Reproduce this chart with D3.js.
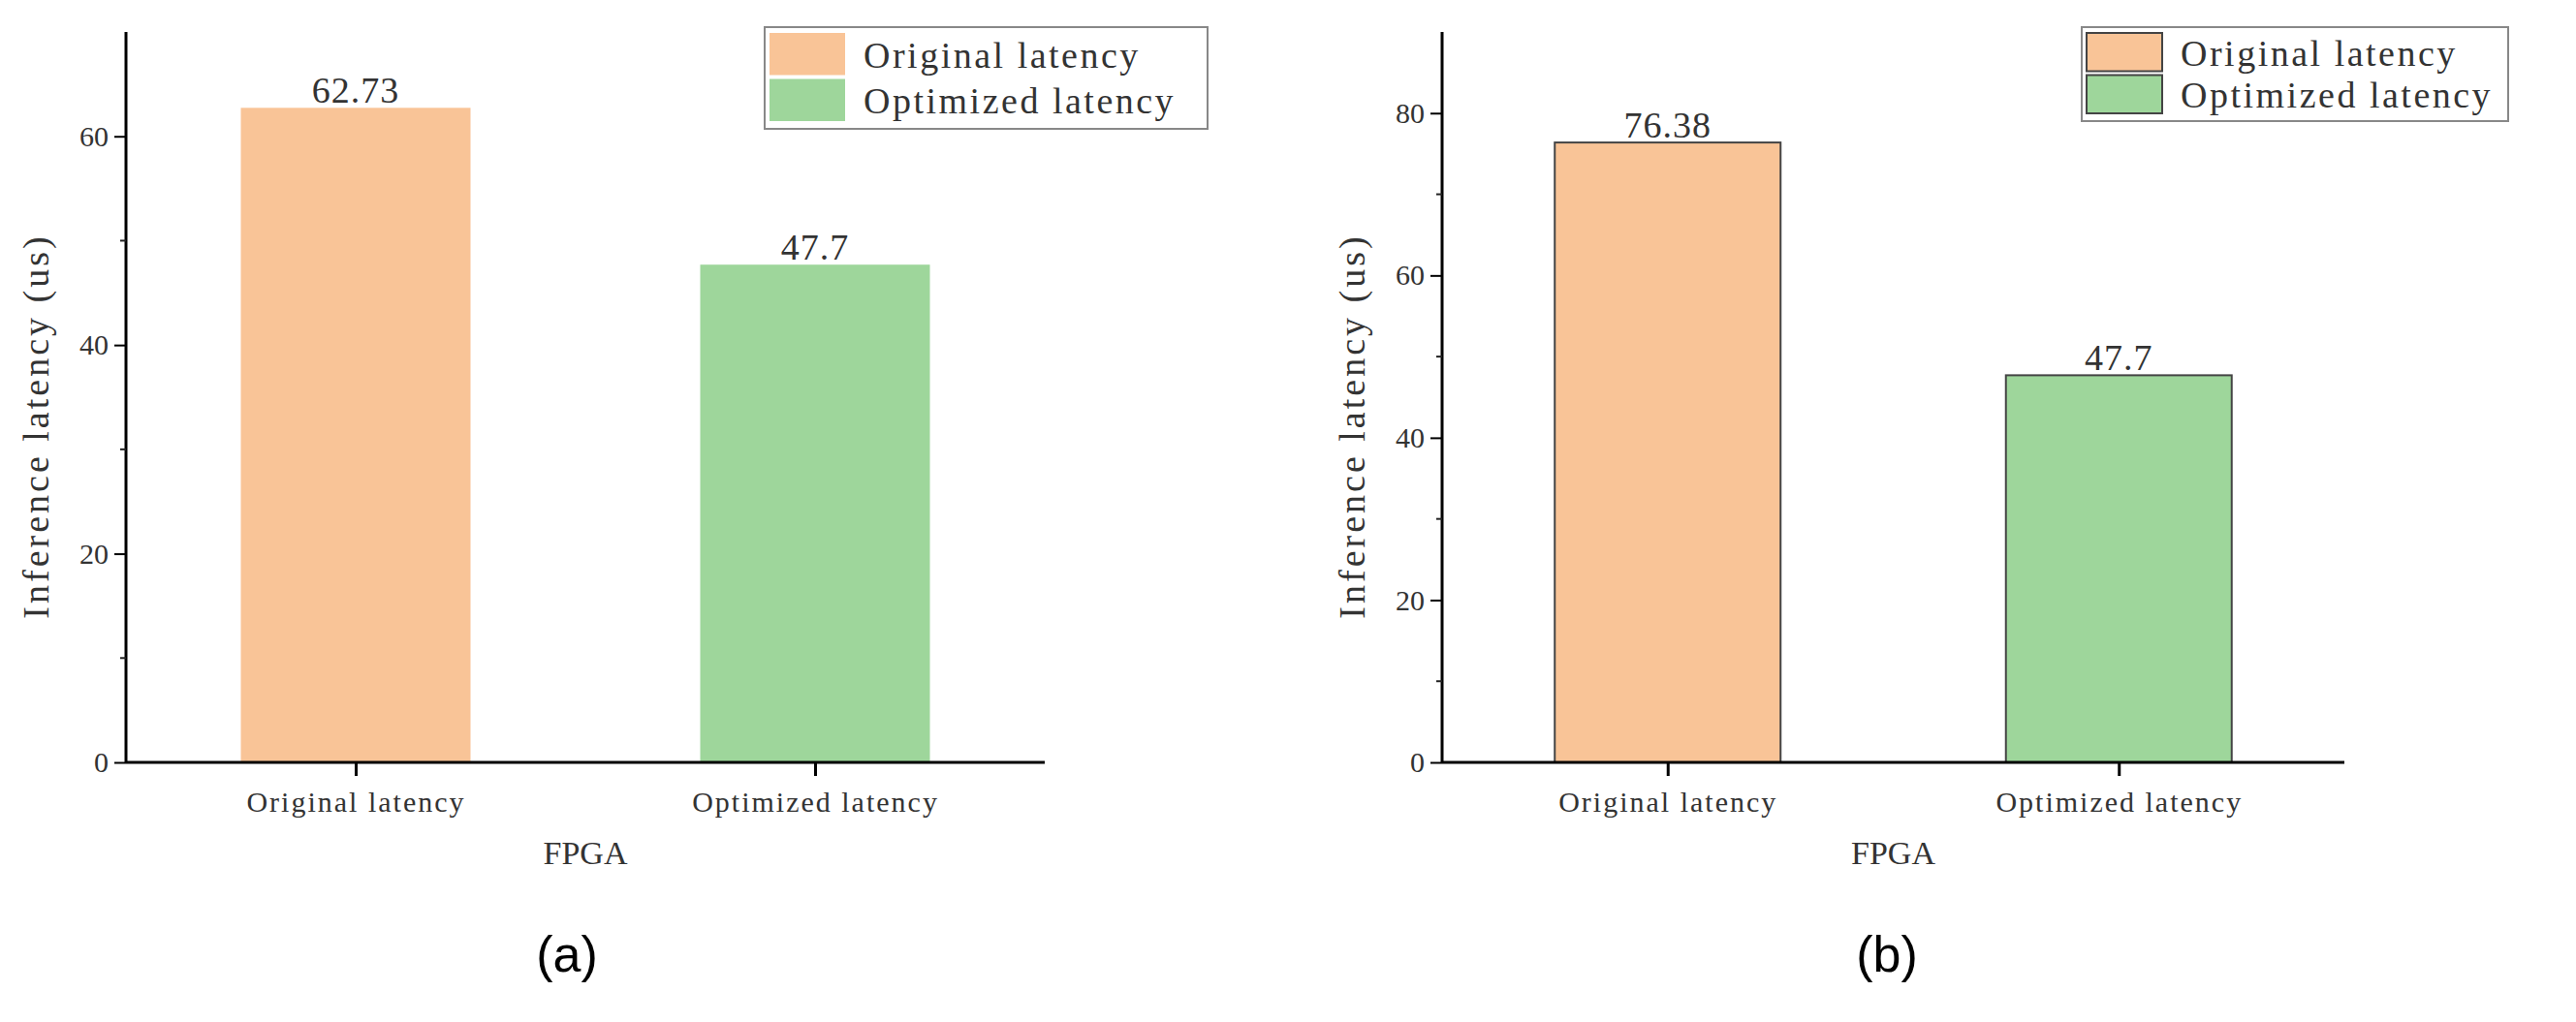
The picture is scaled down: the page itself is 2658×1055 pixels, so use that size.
<!DOCTYPE html>
<html><head><meta charset="utf-8">
<script src="https://cdn.jsdelivr.net/npm/d3@7"></script>
<style>body{margin:0;background:#fff}text{font-family:"Liberation Serif",serif;fill:#333}</style>
</head><body><svg id="c" width="2658" height="1055"></svg>
<script>
var categories = ["Original latency", "Optimized latency"];
var valuesA = [62.73, 47.7];
var valuesB = [76.38, 47.7];
var labelsA = ["62.73", "47.7"];
var labelsB = ["76.38", "47.7"];
var colors = ["#F9C497", "#9ED69B"];

var svg = d3.select("#c");

function drawPanel(o) {
	var g = svg.append("g");
	var x = d3.scaleBand().domain(categories).range([o.x0, o.x1]).paddingInner(1).paddingOuter(0.5);
	var bw = o.barW;
	var y = d3.scaleLinear().domain([0, o.max]).range([787, 33]);

	g.selectAll("rect.bar").data(o.values).enter().append("rect")
		.attr("x", function(d, i) { return x(categories[i]) - bw / 2; })
		.attr("y", function(d) { return y(d); })
		.attr("width", bw)
		.attr("height", function(d) { return y(0) - y(d); })
		.attr("fill", function(d, i) { return colors[i]; })
		.attr("stroke", o.stroke ? "#444" : "none")
		.attr("stroke-width", 2);

	g.selectAll("text.val").data(o.values).enter().append("text")
		.attr("x", function(d, i) { return x(categories[i]); })
		.attr("y", function(d) { return y(d) - 5; })
		.attr("text-anchor", "middle").attr("font-size", 38).attr("letter-spacing", 1)
		.text(function(d, i) { return o.labels[i]; });

	var ya = d3.axisLeft(y).tickValues(d3.range(0, o.max, 20)).tickSize(12).tickPadding(6);
	var yg = g.append("g").attr("transform", "translate(" + o.x0 + ",0)").call(ya);
	yg.selectAll("text").attr("font-size", 30).style("font-family", "Liberation Serif").style("fill", "#333");
	yg.append("g").selectAll("line").data(d3.range(10, o.max, 20)).enter().append("line")
		.attr("x1", -6).attr("x2", 0).attr("y1", y).attr("y2", y).attr("stroke", "#222").attr("stroke-width", 2);
	yg.select(".domain").attr("d", "M0," + y(o.max) + "V" + y(0)).attr("stroke-width", 3);
	yg.selectAll(".tick line").attr("stroke-width", 2);

	var xa = d3.axisBottom(x).tickSize(14).tickPadding(16).tickSizeOuter(0);
	var xg = g.append("g").attr("transform", "translate(0," + y(0) + ")").call(xa);
	xg.select(".domain").attr("d", "M" + o.x0 + ",0H" + o.x1).attr("stroke-width", 3);
	xg.selectAll(".tick line").attr("stroke-width", 3);
	xg.selectAll("text").attr("font-size", 30).attr("letter-spacing", 2)
		.style("font-family", "Liberation Serif").style("fill", "#333");

	g.append("text").attr("x", (o.x0 + o.x1) / 2).attr("y", 892)
		.attr("text-anchor", "middle").attr("font-size", 34).text("FPGA");
	g.append("text").attr("transform", "translate(" + (o.x0 - 80) + ",440) rotate(-90)")
		.attr("text-anchor", "middle").attr("font-size", 38).attr("letter-spacing", 3).text("Inference latency (us)");
	g.append("text").attr("x", o.sub).attr("y", 1003)
		.attr("text-anchor", "middle").attr("font-size", 52)
		.style("font-family", "Liberation Sans").style("fill", "#000").text(o.subLabel);

	// legend
	var lg = g.append("g").attr("transform", "translate(" + o.lx + "," + o.ly + ")");
	lg.append("rect").attr("width", o.lw).attr("height", o.lh)
		.attr("fill", "#fff").attr("stroke", "#888").attr("stroke-width", 2);
	categories.forEach(function(c, i) {
		lg.append("rect").attr("x", 5).attr("y", 6 + i * (o.lh - 10) / 2)
			.attr("width", 78).attr("height", (o.lh - 10) / 2 - 4)
			.attr("fill", colors[i]).attr("stroke", o.stroke ? "#444" : "none").attr("stroke-width", 2);
		lg.append("text").attr("x", 102).attr("y", 6 + (i + 0.5) * (o.lh - 10) / 2 + 12)
			.attr("font-size", 38).attr("letter-spacing", 2.5).text(c);
	});
}

drawPanel({x0: 130, x1: 1078, barW: 237, max: 70, values: valuesA, labels: labelsA,
	stroke: false, sub: 585, subLabel: "(a)", lx: 789, ly: 28, lw: 457, lh: 105});
drawPanel({x0: 1488, x1: 2419, barW: 233, max: 90, values: valuesB, labels: labelsB,
	stroke: true, sub: 1947, subLabel: "(b)", lx: 2148, ly: 28, lw: 440, lh: 97});
</script></body></html>
